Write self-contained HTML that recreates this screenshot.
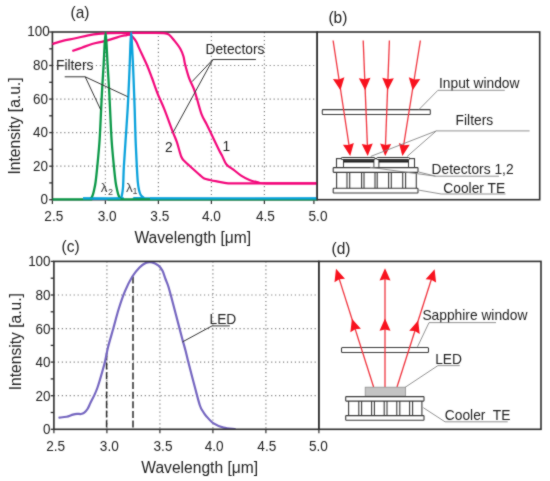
<!DOCTYPE html>
<html><head><meta charset="utf-8"><style>
html,body{margin:0;padding:0;background:#fff;}
body{width:550px;height:481px;overflow:hidden;font-family:"Liberation Sans",sans-serif;}
svg{display:block;}
</style></head><body>
<svg width="550" height="481" viewBox="0 0 550 481">
<defs><filter id="bl" filterUnits="userSpaceOnUse" x="0" y="0" width="550" height="481" color-interpolation-filters="sRGB"><feConvolveMatrix order="3" kernelMatrix="1 2 1 2 16 2 1 2 1" divisor="28" edgeMode="duplicate" preserveAlpha="true"/></filter></defs>
<g filter="url(#bl)">
<rect width="550" height="481" fill="#fff"/>
<line x1="105.4" y1="32.0" x2="105.4" y2="199.7" stroke="#7c7c7c" stroke-width="1.2" stroke-dasharray="1.15 2.8"/>
<line x1="158.4" y1="32.0" x2="158.4" y2="199.7" stroke="#7c7c7c" stroke-width="1.2" stroke-dasharray="1.15 2.8"/>
<line x1="211.4" y1="32.0" x2="211.4" y2="199.7" stroke="#7c7c7c" stroke-width="1.2" stroke-dasharray="1.15 2.8"/>
<line x1="264.4" y1="32.0" x2="264.4" y2="199.7" stroke="#7c7c7c" stroke-width="1.2" stroke-dasharray="1.15 2.8"/>
<line x1="52.4" y1="166.2" x2="317.2" y2="166.2" stroke="#7c7c7c" stroke-width="1.2" stroke-dasharray="1.15 2.8"/>
<line x1="52.4" y1="132.6" x2="317.2" y2="132.6" stroke="#7c7c7c" stroke-width="1.2" stroke-dasharray="1.15 2.8"/>
<line x1="52.4" y1="99.1" x2="317.2" y2="99.1" stroke="#7c7c7c" stroke-width="1.2" stroke-dasharray="1.15 2.8"/>
<line x1="52.4" y1="65.5" x2="317.2" y2="65.5" stroke="#7c7c7c" stroke-width="1.2" stroke-dasharray="1.15 2.8"/>
<rect x="52.4" y="32.0" width="264.8" height="167.7" fill="none" stroke="#2e2e2e" stroke-width="1.6"/>
<path d="M52.40,44.00 C54.12,43.48 58.85,41.85 62.70,40.90 C66.55,39.95 71.25,39.23 75.50,38.30 C79.75,37.37 83.95,36.08 88.20,35.30 C92.45,34.52 97.37,33.97 101.00,33.60 C104.63,33.23 105.17,33.20 110.00,33.10 C114.83,33.00 123.33,33.03 130.00,33.00 C136.67,32.97 144.33,32.88 150.00,32.90 C155.67,32.92 160.83,32.80 164.00,33.10 C167.17,33.40 167.28,33.47 169.00,34.70 C170.72,35.93 172.42,38.17 174.30,40.50 C176.18,42.83 178.77,46.03 180.30,48.70 C181.83,51.37 182.72,53.95 183.50,56.50 C184.28,59.05 184.08,60.45 185.00,64.00 C185.92,67.55 187.48,73.55 189.00,77.80 C190.52,82.05 192.72,85.80 194.10,89.50 C195.48,93.20 196.03,95.82 197.30,100.00 C198.57,104.18 200.17,110.60 201.70,114.60 C203.23,118.60 204.93,120.85 206.50,124.00 C208.07,127.15 209.00,129.13 211.10,133.50 C213.20,137.87 217.28,146.53 219.10,150.20 C220.92,153.87 220.77,153.12 222.00,155.50 C223.23,157.88 224.60,162.15 226.50,164.50 C228.40,166.85 230.97,167.75 233.40,169.60 C235.83,171.45 238.33,173.83 241.10,175.60 C243.87,177.37 247.18,179.08 250.00,180.20 C252.82,181.32 255.25,181.78 258.00,182.30 C260.75,182.82 256.63,183.13 266.50,183.30 C276.37,183.47 308.75,183.30 317.20,183.30" fill="none" stroke="#f3077b" stroke-width="2.2" stroke-linejoin="round"/>
<path d="M72.30,51.00 C73.88,50.45 78.52,48.87 81.80,47.70 C85.08,46.53 88.38,45.05 92.00,44.00 C95.62,42.95 100.12,42.25 103.50,41.40 C106.88,40.55 109.27,39.80 112.30,38.90 C115.33,38.00 119.40,36.60 121.70,36.00 C124.00,35.40 124.80,35.53 126.10,35.30 C127.40,35.07 128.35,34.28 129.50,34.60 C130.65,34.92 131.85,35.97 133.00,37.20 C134.15,38.43 135.37,40.13 136.40,42.00 C137.43,43.87 137.47,44.62 139.20,48.40 C140.93,52.18 144.67,59.77 146.80,64.70 C148.93,69.63 150.18,73.15 152.00,78.00 C153.82,82.85 155.65,88.62 157.70,93.80 C159.75,98.98 161.82,102.85 164.30,109.10 C166.78,115.35 170.50,125.78 172.60,131.30 C174.70,136.82 175.45,137.95 176.90,142.20 C178.35,146.45 179.93,153.53 181.30,156.80 C182.67,160.07 183.65,160.23 185.10,161.80 C186.55,163.37 188.30,164.67 190.00,166.20 C191.70,167.73 193.63,169.50 195.30,171.00 C196.97,172.50 198.52,173.93 200.00,175.20 C201.48,176.47 202.53,177.80 204.20,178.60 C205.87,179.40 208.10,179.57 210.00,180.00 C211.90,180.43 213.60,180.80 215.60,181.20 C217.60,181.60 219.87,182.05 222.00,182.40 C224.13,182.75 226.07,183.15 228.40,183.30 C230.73,183.45 221.20,183.30 236.00,183.30 C250.80,183.30 303.67,183.30 317.20,183.30" fill="none" stroke="#f3077b" stroke-width="2.2" stroke-linejoin="round"/>
<path d="M83.00,198.50 C89.13,198.50 113.42,198.65 119.80,198.50 C126.18,198.35 120.88,198.52 121.30,197.60 C121.72,196.68 122.00,194.93 122.30,193.00 C122.60,191.07 122.83,190.50 123.10,186.00 C123.37,181.50 123.48,173.67 123.90,166.00 C124.32,158.33 124.98,149.33 125.60,140.00 C126.22,130.67 127.08,118.67 127.60,110.00 C128.12,101.33 128.35,95.50 128.70,88.00 C129.05,80.50 129.42,72.17 129.70,65.00 C129.98,57.83 130.15,50.40 130.40,45.00 C130.65,39.60 130.93,32.60 131.20,32.60 C131.47,32.60 131.70,39.60 132.00,45.00 C132.30,50.40 132.68,57.83 133.00,65.00 C133.32,72.17 133.62,80.50 133.90,88.00 C134.18,95.50 134.42,101.33 134.70,110.00 C134.98,118.67 135.25,130.67 135.60,140.00 C135.95,149.33 136.43,159.00 136.80,166.00 C137.17,173.00 137.43,178.00 137.80,182.00 C138.17,186.00 138.50,187.80 139.00,190.00 C139.50,192.20 140.05,193.93 140.80,195.20 C141.55,196.47 142.38,197.05 143.50,197.60 C144.62,198.15 118.55,198.35 147.50,198.50 C176.45,198.65 288.92,198.50 317.20,198.50" fill="none" stroke="#0aa2dc" stroke-width="2.3" stroke-linejoin="round"/>
<path d="M52.40,199.30 C58.42,199.30 82.13,199.40 88.50,199.30 C94.87,199.20 89.92,199.33 90.60,198.70 C91.28,198.07 92.02,196.95 92.60,195.50 C93.18,194.05 93.60,192.25 94.10,190.00 C94.60,187.75 95.07,185.93 95.60,182.00 C96.13,178.07 96.63,173.40 97.30,166.40 C97.97,159.40 98.97,149.40 99.60,140.00 C100.23,130.60 100.67,118.67 101.10,110.00 C101.53,101.33 101.78,95.50 102.20,88.00 C102.62,80.50 103.20,72.17 103.60,65.00 C104.00,57.83 104.27,50.40 104.60,45.00 C104.93,39.60 105.27,32.60 105.60,32.60 C105.93,32.60 106.27,39.60 106.60,45.00 C106.93,50.40 107.20,57.83 107.60,65.00 C108.00,72.17 108.58,80.50 109.00,88.00 C109.42,95.50 109.67,101.33 110.10,110.00 C110.53,118.67 110.97,130.60 111.60,140.00 C112.23,149.40 113.23,159.40 113.90,166.40 C114.57,173.40 115.07,178.07 115.60,182.00 C116.13,185.93 116.60,187.75 117.10,190.00 C117.60,192.25 118.02,194.05 118.60,195.50 C119.18,196.95 119.87,198.07 120.60,198.70 C121.33,199.33 90.23,199.20 123.00,199.30 C155.77,199.40 284.83,199.30 317.20,199.30" fill="none" stroke="#0a9847" stroke-width="2.3" stroke-linejoin="round"/>
<line x1="83" y1="198.5" x2="120.5" y2="198.5" stroke="#0aa2dc" stroke-width="2.2"/>
<line x1="150" y1="198.5" x2="317.2" y2="198.5" stroke="#0aa2dc" stroke-width="2.2"/>
<line x1="49.2" y1="199.7" x2="52.4" y2="199.7" stroke="#2e2e2e" stroke-width="1.3"/>
<line x1="49.2" y1="182.9" x2="52.4" y2="182.9" stroke="#2e2e2e" stroke-width="1.3"/>
<line x1="49.2" y1="166.2" x2="52.4" y2="166.2" stroke="#2e2e2e" stroke-width="1.3"/>
<line x1="49.2" y1="149.4" x2="52.4" y2="149.4" stroke="#2e2e2e" stroke-width="1.3"/>
<line x1="49.2" y1="132.6" x2="52.4" y2="132.6" stroke="#2e2e2e" stroke-width="1.3"/>
<line x1="49.2" y1="115.8" x2="52.4" y2="115.8" stroke="#2e2e2e" stroke-width="1.3"/>
<line x1="49.2" y1="99.1" x2="52.4" y2="99.1" stroke="#2e2e2e" stroke-width="1.3"/>
<line x1="49.2" y1="82.3" x2="52.4" y2="82.3" stroke="#2e2e2e" stroke-width="1.3"/>
<line x1="49.2" y1="65.5" x2="52.4" y2="65.5" stroke="#2e2e2e" stroke-width="1.3"/>
<line x1="49.2" y1="48.8" x2="52.4" y2="48.8" stroke="#2e2e2e" stroke-width="1.3"/>
<line x1="49.2" y1="32.0" x2="52.4" y2="32.0" stroke="#2e2e2e" stroke-width="1.3"/>
<text transform="translate(48.0,204.4) scale(0.88,1)" font-size="15.3" text-anchor="end" fill="#1e1e1e" font-family="'Liberation Sans', sans-serif">0</text>
<text transform="translate(48.0,170.9) scale(0.88,1)" font-size="15.3" text-anchor="end" fill="#1e1e1e" font-family="'Liberation Sans', sans-serif">20</text>
<text transform="translate(48.0,137.3) scale(0.88,1)" font-size="15.3" text-anchor="end" fill="#1e1e1e" font-family="'Liberation Sans', sans-serif">40</text>
<text transform="translate(48.0,103.8) scale(0.88,1)" font-size="15.3" text-anchor="end" fill="#1e1e1e" font-family="'Liberation Sans', sans-serif">60</text>
<text transform="translate(48.0,70.2) scale(0.88,1)" font-size="15.3" text-anchor="end" fill="#1e1e1e" font-family="'Liberation Sans', sans-serif">80</text>
<text transform="translate(49.8,35.9) scale(0.88,1)" font-size="15.3" text-anchor="end" fill="#1e1e1e" font-family="'Liberation Sans', sans-serif">100</text>
<line x1="52.4" y1="200.5" x2="52.4" y2="203.9" stroke="#2e2e2e" stroke-width="1.2"/>
<text transform="translate(53.8,221.2) scale(0.89,1)" font-size="15.3" text-anchor="middle" fill="#1e1e1e" font-family="'Liberation Sans', sans-serif">2.5</text>
<line x1="105.4" y1="200.5" x2="105.4" y2="203.9" stroke="#2e2e2e" stroke-width="1.2"/>
<text transform="translate(107.2,221.2) scale(0.89,1)" font-size="15.3" text-anchor="middle" fill="#1e1e1e" font-family="'Liberation Sans', sans-serif">3.0</text>
<line x1="158.4" y1="200.5" x2="158.4" y2="203.9" stroke="#2e2e2e" stroke-width="1.2"/>
<text transform="translate(159.8,221.2) scale(0.89,1)" font-size="15.3" text-anchor="middle" fill="#1e1e1e" font-family="'Liberation Sans', sans-serif">3.5</text>
<line x1="211.4" y1="200.5" x2="211.4" y2="203.9" stroke="#2e2e2e" stroke-width="1.2"/>
<text transform="translate(211.4,221.2) scale(0.89,1)" font-size="15.3" text-anchor="middle" fill="#1e1e1e" font-family="'Liberation Sans', sans-serif">4.0</text>
<line x1="264.4" y1="200.5" x2="264.4" y2="203.9" stroke="#2e2e2e" stroke-width="1.2"/>
<text transform="translate(265.4,221.2) scale(0.89,1)" font-size="15.3" text-anchor="middle" fill="#1e1e1e" font-family="'Liberation Sans', sans-serif">4.5</text>
<line x1="313.9" y1="200.5" x2="313.9" y2="203.9" stroke="#2e2e2e" stroke-width="1.2"/>
<text transform="translate(318.0,221.2) scale(0.89,1)" font-size="15.3" text-anchor="middle" fill="#1e1e1e" font-family="'Liberation Sans', sans-serif">5.0</text>
<text x="192.8" y="243.2" font-size="15.6" text-anchor="middle" fill="#1e1e1e" font-family="'Liberation Sans', sans-serif">Wavelength [μm]</text>
<text transform="translate(20.3,126) rotate(-90)" font-size="15.6" text-anchor="middle" fill="#1e1e1e" font-family="'Liberation Sans', sans-serif">Intensity [a.u.]</text>
<text transform="translate(80,18) scale(0.945,1)" font-size="16.4" text-anchor="middle" fill="#1e1e1e" font-family="'Liberation Sans', sans-serif" >(a)</text>
<text transform="translate(56,70.3) scale(0.945,1)" font-size="14.6" text-anchor="start" fill="#1e1e1e" font-family="'Liberation Sans', sans-serif" >Filters</text>
<path d="M64.7,76.8 L85.2,76.8 L100.7,109.8 M85.2,76.8 L127.7,96.7" fill="none" stroke="#333" stroke-width="1"/>
<text transform="translate(205.5,53.8) scale(0.945,1)" font-size="14.6" text-anchor="start" fill="#1e1e1e" font-family="'Liberation Sans', sans-serif" >Detectors</text>
<path d="M255.9,59.5 L212.9,59.5 L192.1,81.6 M212.9,59.5 L173.3,132" fill="none" stroke="#333" stroke-width="1"/>
<text transform="translate(165,152.2) scale(0.945,1)" font-size="14.6" text-anchor="start" fill="#1e1e1e" font-family="'Liberation Sans', sans-serif" >2</text>
<text transform="translate(222.4,150.7) scale(0.945,1)" font-size="14.6" text-anchor="start" fill="#1e1e1e" font-family="'Liberation Sans', sans-serif" >1</text>
<text x="100.8" y="192" font-size="13.5" fill="#444" font-family="'Liberation Sans', sans-serif">λ</text><text x="107.9" y="195" font-size="9" fill="#444" font-family="'Liberation Sans', sans-serif">2</text>
<text x="126" y="191.6" font-size="13.5" fill="#444" font-family="'Liberation Sans', sans-serif">λ</text><text x="132.6" y="193.6" font-size="9" fill="#444" font-family="'Liberation Sans', sans-serif">1</text>
<rect x="317.2" y="32.0" width="222.5" height="167.7" fill="none" stroke="#2e2e2e" stroke-width="1.6"/>
<text transform="translate(337.9,22.8) scale(0.945,1)" font-size="16.4" text-anchor="middle" fill="#1e1e1e" font-family="'Liberation Sans', sans-serif" >(b)</text>
<rect x="322.3" y="109.6" width="108" height="4.9" rx="0.8" fill="none" stroke="#3a3a3a" stroke-width="1.05"/>
<line x1="333.1" y1="40.5" x2="350.2" y2="153" stroke="#f0343e" stroke-width="1.3"/>
<path d="M340.47,90.30 L332.93,78.98 L338.86,79.42 L344.41,77.28 Z" fill="#f8121e"/>
<path d="M350.20,156.00 L342.96,144.64 L348.59,145.12 L353.84,143.03 Z" fill="#f8121e"/>
<line x1="363.2" y1="40.5" x2="367.7" y2="153" stroke="#f0343e" stroke-width="1.3"/>
<path d="M365.14,90.30 L358.87,78.24 L364.71,79.31 L370.46,77.78 Z" fill="#f8121e"/>
<path d="M367.70,156.00 L361.73,143.92 L367.27,145.01 L372.72,143.50 Z" fill="#f8121e"/>
<line x1="389.4" y1="40.5" x2="385.2" y2="153" stroke="#f0343e" stroke-width="1.3"/>
<path d="M387.59,90.30 L382.24,77.80 L387.99,79.31 L393.83,78.22 Z" fill="#f8121e"/>
<path d="M385.20,156.00 L380.15,143.51 L385.60,145.01 L391.14,143.91 Z" fill="#f8121e"/>
<line x1="420.4" y1="40.5" x2="402.4" y2="153" stroke="#f0343e" stroke-width="1.3"/>
<path d="M412.64,90.30 L408.80,77.25 L414.33,79.43 L420.26,79.04 Z" fill="#f8121e"/>
<path d="M402.40,156.00 L398.86,143.00 L404.09,145.13 L409.73,144.69 Z" fill="#f8121e"/>
<rect x="336.5" y="158.6" width="78" height="9" fill="#fff" stroke="#3a3a3a" stroke-width="1.1"/>
<rect x="343.5" y="159.8" width="30.4" height="7.8" fill="#fff" stroke="#3a3a3a" stroke-width="0.95"/>
<rect x="343.5" y="160.2" width="30.4" height="2.3" fill="#1a1a1a"/>
<rect x="341.2" y="157.5" width="33.8" height="2.0" rx="1.0" fill="#fff" stroke="#2e2e2e" stroke-width="1.0"/>
<rect x="378.90000000000003" y="159.8" width="29.6" height="7.8" fill="#fff" stroke="#3a3a3a" stroke-width="0.95"/>
<rect x="378.90000000000003" y="160.2" width="29.6" height="2.3" fill="#1a1a1a"/>
<rect x="376.6" y="157.5" width="33.0" height="2.0" rx="1.0" fill="#fff" stroke="#2e2e2e" stroke-width="1.0"/>
<rect x="333.2" y="167.6" width="84.8" height="4.8" rx="0.6" fill="#fff" stroke="#3a3a3a" stroke-width="1.1"/>
<rect x="333.2" y="188.3" width="84.8" height="4.7" rx="0.6" fill="#fff" stroke="#3a3a3a" stroke-width="1.1"/>
<line x1="336.6" y1="172.4" x2="336.6" y2="188.3" stroke="#3a3a3a" stroke-width="1.1"/>
<line x1="347.0" y1="172.4" x2="347.0" y2="188.3" stroke="#3a3a3a" stroke-width="1.1"/>
<line x1="349.7" y1="172.4" x2="349.7" y2="188.3" stroke="#3a3a3a" stroke-width="1.1"/>
<line x1="361.6" y1="172.4" x2="361.6" y2="188.3" stroke="#3a3a3a" stroke-width="1.1"/>
<line x1="364.0" y1="172.4" x2="364.0" y2="188.3" stroke="#3a3a3a" stroke-width="1.1"/>
<line x1="375.0" y1="172.4" x2="375.0" y2="188.3" stroke="#3a3a3a" stroke-width="1.1"/>
<line x1="377.2" y1="172.4" x2="377.2" y2="188.3" stroke="#3a3a3a" stroke-width="1.1"/>
<line x1="388.6" y1="172.4" x2="388.6" y2="188.3" stroke="#3a3a3a" stroke-width="1.1"/>
<line x1="391.3" y1="172.4" x2="391.3" y2="188.3" stroke="#3a3a3a" stroke-width="1.1"/>
<line x1="402.7" y1="172.4" x2="402.7" y2="188.3" stroke="#3a3a3a" stroke-width="1.1"/>
<line x1="405.6" y1="172.4" x2="405.6" y2="188.3" stroke="#3a3a3a" stroke-width="1.1"/>
<line x1="416.3" y1="172.4" x2="416.3" y2="188.3" stroke="#3a3a3a" stroke-width="1.1"/>
<text transform="translate(439,88.2) scale(0.945,1)" font-size="14.6" text-anchor="start" fill="#1e1e1e" font-family="'Liberation Sans', sans-serif" >Input window</text>
<path d="M504.8,90.3 L437.9,90.3 L419,109.5" fill="none" stroke="#858585" stroke-width="0.9"/>
<text transform="translate(455.6,124.6) scale(0.945,1)" font-size="14.6" text-anchor="start" fill="#1e1e1e" font-family="'Liberation Sans', sans-serif" >Filters</text>
<path d="M529.6,130.9 L436.3,130.9 L370.8,156.4 M436.3,130.9 L407.2,156.4" fill="none" stroke="#858585" stroke-width="0.9"/>
<text transform="translate(431.6,173.6) scale(0.945,1)" font-size="14.6" text-anchor="start" fill="#1e1e1e" font-family="'Liberation Sans', sans-serif" >Detectors 1,2</text>
<path d="M499,176.2 L435.6,176.2 L370,167.3 M435.6,176.2 L418.7,172" fill="none" stroke="#858585" stroke-width="0.9"/>
<text transform="translate(443.3,192.5) scale(0.945,1)" font-size="14.6" text-anchor="start" fill="#1e1e1e" font-family="'Liberation Sans', sans-serif" >Cooler TE</text>
<path d="M505.5,194.0 L441.2,194.0 L418.7,190.1" fill="none" stroke="#858585" stroke-width="0.9"/>
<line x1="106.9" y1="261.4" x2="106.9" y2="429.3" stroke="#7c7c7c" stroke-width="1.2" stroke-dasharray="1.15 2.8"/>
<line x1="159.9" y1="261.4" x2="159.9" y2="429.3" stroke="#7c7c7c" stroke-width="1.2" stroke-dasharray="1.15 2.8"/>
<line x1="212.9" y1="261.4" x2="212.9" y2="429.3" stroke="#7c7c7c" stroke-width="1.2" stroke-dasharray="1.15 2.8"/>
<line x1="265.9" y1="261.4" x2="265.9" y2="429.3" stroke="#7c7c7c" stroke-width="1.2" stroke-dasharray="1.15 2.8"/>
<line x1="53.9" y1="395.7" x2="318.8" y2="395.7" stroke="#7c7c7c" stroke-width="1.2" stroke-dasharray="1.15 2.8"/>
<line x1="53.9" y1="362.1" x2="318.8" y2="362.1" stroke="#7c7c7c" stroke-width="1.2" stroke-dasharray="1.15 2.8"/>
<line x1="53.9" y1="328.6" x2="318.8" y2="328.6" stroke="#7c7c7c" stroke-width="1.2" stroke-dasharray="1.15 2.8"/>
<line x1="53.9" y1="295.0" x2="318.8" y2="295.0" stroke="#7c7c7c" stroke-width="1.2" stroke-dasharray="1.15 2.8"/>
<line x1="106.6" y1="353" x2="106.6" y2="429.3" stroke="#2a2a2a" stroke-width="1.5" stroke-dasharray="7 2.6"/>
<line x1="133.0" y1="276.5" x2="133.0" y2="429.3" stroke="#2a2a2a" stroke-width="1.5" stroke-dasharray="7 2.6"/>
<path d="M59.40,417.60 C60.60,417.47 64.35,417.30 66.60,416.80 C68.85,416.30 71.17,415.10 72.90,414.60 C74.63,414.10 75.65,413.90 77.00,413.80 C78.35,413.70 79.78,414.20 81.00,414.00 C82.22,413.80 83.22,413.43 84.30,412.60 C85.38,411.77 86.47,410.63 87.50,409.00 C88.53,407.37 89.30,405.23 90.50,402.80 C91.70,400.37 93.53,396.95 94.70,394.40 C95.87,391.85 96.63,389.92 97.50,387.50 C98.37,385.08 99.05,382.73 99.90,379.90 C100.75,377.07 101.73,373.62 102.60,370.50 C103.47,367.38 104.17,365.18 105.10,361.20 C106.03,357.22 106.80,352.17 108.20,346.60 C109.60,341.03 111.75,334.07 113.50,327.80 C115.25,321.53 116.80,315.07 118.70,309.00 C120.60,302.93 122.65,296.77 124.90,291.40 C127.15,286.03 129.77,280.78 132.20,276.80 C134.63,272.82 137.25,269.82 139.50,267.50 C141.75,265.18 143.62,263.77 145.70,262.90 C147.78,262.03 149.92,261.88 152.00,262.30 C154.08,262.72 156.47,264.02 158.20,265.40 C159.93,266.78 161.18,268.33 162.40,270.60 C163.62,272.87 164.47,276.23 165.50,279.00 C166.53,281.77 167.38,283.23 168.60,287.20 C169.82,291.17 171.23,296.90 172.80,302.80 C174.37,308.70 176.42,316.57 178.00,322.60 C179.58,328.63 181.05,334.35 182.30,339.00 C183.55,343.65 184.43,346.40 185.50,350.50 C186.57,354.60 187.13,357.47 188.70,363.60 C190.27,369.73 193.03,380.32 194.90,387.30 C196.77,394.28 198.55,401.47 199.90,405.50 C201.25,409.53 201.97,409.77 203.00,411.50 C204.03,413.23 204.33,413.92 206.10,415.90 C207.87,417.88 210.68,421.45 213.60,423.40 C216.52,425.35 220.07,426.67 223.60,427.60 C227.13,428.53 232.93,428.77 234.80,429.00" fill="none" stroke="#7566c0" stroke-width="2.2" stroke-linejoin="round" stroke-linecap="round"/>
<rect x="53.9" y="261.4" width="264.9" height="167.9" fill="none" stroke="#2e2e2e" stroke-width="1.6"/>
<line x1="50.7" y1="429.3" x2="53.9" y2="429.3" stroke="#2e2e2e" stroke-width="1.3"/>
<line x1="50.7" y1="412.5" x2="53.9" y2="412.5" stroke="#2e2e2e" stroke-width="1.3"/>
<line x1="50.7" y1="395.7" x2="53.9" y2="395.7" stroke="#2e2e2e" stroke-width="1.3"/>
<line x1="50.7" y1="378.9" x2="53.9" y2="378.9" stroke="#2e2e2e" stroke-width="1.3"/>
<line x1="50.7" y1="362.1" x2="53.9" y2="362.1" stroke="#2e2e2e" stroke-width="1.3"/>
<line x1="50.7" y1="345.4" x2="53.9" y2="345.4" stroke="#2e2e2e" stroke-width="1.3"/>
<line x1="50.7" y1="328.6" x2="53.9" y2="328.6" stroke="#2e2e2e" stroke-width="1.3"/>
<line x1="50.7" y1="311.8" x2="53.9" y2="311.8" stroke="#2e2e2e" stroke-width="1.3"/>
<line x1="50.7" y1="295.0" x2="53.9" y2="295.0" stroke="#2e2e2e" stroke-width="1.3"/>
<line x1="50.7" y1="278.2" x2="53.9" y2="278.2" stroke="#2e2e2e" stroke-width="1.3"/>
<line x1="50.7" y1="261.4" x2="53.9" y2="261.4" stroke="#2e2e2e" stroke-width="1.3"/>
<text transform="translate(50.6,434.2) scale(0.88,1)" font-size="15.3" text-anchor="end" fill="#1e1e1e" font-family="'Liberation Sans', sans-serif">0</text>
<text transform="translate(50.6,400.6) scale(0.88,1)" font-size="15.3" text-anchor="end" fill="#1e1e1e" font-family="'Liberation Sans', sans-serif">20</text>
<text transform="translate(50.6,367.0) scale(0.88,1)" font-size="15.3" text-anchor="end" fill="#1e1e1e" font-family="'Liberation Sans', sans-serif">40</text>
<text transform="translate(50.6,333.5) scale(0.88,1)" font-size="15.3" text-anchor="end" fill="#1e1e1e" font-family="'Liberation Sans', sans-serif">60</text>
<text transform="translate(50.6,299.9) scale(0.88,1)" font-size="15.3" text-anchor="end" fill="#1e1e1e" font-family="'Liberation Sans', sans-serif">80</text>
<text transform="translate(50.6,266.3) scale(0.88,1)" font-size="15.3" text-anchor="end" fill="#1e1e1e" font-family="'Liberation Sans', sans-serif">100</text>
<line x1="53.9" y1="430.1" x2="53.9" y2="433.3" stroke="#2e2e2e" stroke-width="1.2"/>
<text transform="translate(55.7,450.8) scale(0.89,1)" font-size="15.3" text-anchor="middle" fill="#1e1e1e" font-family="'Liberation Sans', sans-serif">2.5</text>
<line x1="106.9" y1="430.1" x2="106.9" y2="433.3" stroke="#2e2e2e" stroke-width="1.2"/>
<text transform="translate(109.3,450.8) scale(0.89,1)" font-size="15.3" text-anchor="middle" fill="#1e1e1e" font-family="'Liberation Sans', sans-serif">3.0</text>
<line x1="159.9" y1="430.1" x2="159.9" y2="433.3" stroke="#2e2e2e" stroke-width="1.2"/>
<text transform="translate(163.0,450.8) scale(0.89,1)" font-size="15.3" text-anchor="middle" fill="#1e1e1e" font-family="'Liberation Sans', sans-serif">3.5</text>
<line x1="212.9" y1="430.1" x2="212.9" y2="433.3" stroke="#2e2e2e" stroke-width="1.2"/>
<text transform="translate(214.2,450.8) scale(0.89,1)" font-size="15.3" text-anchor="middle" fill="#1e1e1e" font-family="'Liberation Sans', sans-serif">4.0</text>
<line x1="265.9" y1="430.1" x2="265.9" y2="433.3" stroke="#2e2e2e" stroke-width="1.2"/>
<text transform="translate(266.8,450.8) scale(0.89,1)" font-size="15.3" text-anchor="middle" fill="#1e1e1e" font-family="'Liberation Sans', sans-serif">4.5</text>
<line x1="318.9" y1="430.1" x2="318.9" y2="433.3" stroke="#2e2e2e" stroke-width="1.2"/>
<text transform="translate(318.4,450.8) scale(0.89,1)" font-size="15.3" text-anchor="middle" fill="#1e1e1e" font-family="'Liberation Sans', sans-serif">5.0</text>
<text x="199.7" y="472.8" font-size="15.6" text-anchor="middle" fill="#1e1e1e" font-family="'Liberation Sans', sans-serif">Wavelength [μm]</text>
<text transform="translate(20.5,341.7) rotate(-90)" font-size="15.6" text-anchor="middle" fill="#1e1e1e" font-family="'Liberation Sans', sans-serif">Intensity [a.u.]</text>
<text transform="translate(70.6,252.3) scale(0.945,1)" font-size="16.4" text-anchor="middle" fill="#1e1e1e" font-family="'Liberation Sans', sans-serif" >(c)</text>
<text transform="translate(209.5,324.1) scale(0.945,1)" font-size="14.6" text-anchor="start" fill="#1e1e1e" font-family="'Liberation Sans', sans-serif" >LED</text>
<path d="M229.8,325.9 L212,325.9 L182.5,341.9" fill="none" stroke="#333" stroke-width="1"/>
<rect x="318.8" y="261.4" width="222.2" height="167.9" fill="none" stroke="#2e2e2e" stroke-width="1.6"/>
<text transform="translate(341.0,254.4) scale(0.945,1)" font-size="16.4" text-anchor="middle" fill="#1e1e1e" font-family="'Liberation Sans', sans-serif" >(d)</text>
<rect x="341.5" y="347.5" width="87" height="4.9" rx="1" fill="none" stroke="#3a3a3a" stroke-width="1.05"/>
<line x1="373.6" y1="387" x2="337.13" y2="272.35" stroke="#f0343e" stroke-width="1.3"/>
<path d="M336.00,268.80 L344.97,278.85 L339.33,279.28 L334.49,282.19 Z" fill="#f8121e"/>
<path d="M351.91,318.80 L360.88,328.85 L355.24,329.28 L350.39,332.19 Z" fill="#f8121e"/>
<line x1="385" y1="387" x2="385.00" y2="271.76" stroke="#f0343e" stroke-width="1.3"/>
<path d="M385.00,268.20 L390.50,280.50 L385.00,279.20 L379.50,280.50 Z" fill="#f8121e"/>
<path d="M385.00,318.40 L390.50,330.70 L385.00,329.40 L379.50,330.70 Z" fill="#f8121e"/>
<line x1="397" y1="387" x2="433.47" y2="272.73" stroke="#f0343e" stroke-width="1.3"/>
<path d="M434.60,269.20 L436.10,282.59 L431.26,279.68 L425.62,279.25 Z" fill="#f8121e"/>
<path d="M418.19,320.60 L419.69,333.99 L414.85,331.08 L409.21,330.65 Z" fill="#f8121e"/>
<rect x="365.2" y="387.2" width="40.3" height="9" fill="#c3c3c3" stroke="#8f8f8f" stroke-width="0.8"/>
<rect x="345.7" y="396.6" width="78.3" height="4.5" rx="0.6" fill="#fff" stroke="#3a3a3a" stroke-width="1.1"/>
<rect x="345.7" y="415.6" width="78.3" height="4.7" rx="0.6" fill="#fff" stroke="#3a3a3a" stroke-width="1.1"/>
<line x1="348.6" y1="401.1" x2="348.6" y2="415.6" stroke="#3a3a3a" stroke-width="1.1"/>
<line x1="358.8" y1="401.1" x2="358.8" y2="415.6" stroke="#3a3a3a" stroke-width="1.1"/>
<line x1="361.6" y1="401.1" x2="361.6" y2="415.6" stroke="#3a3a3a" stroke-width="1.1"/>
<line x1="371.6" y1="401.1" x2="371.6" y2="415.6" stroke="#3a3a3a" stroke-width="1.1"/>
<line x1="374.4" y1="401.1" x2="374.4" y2="415.6" stroke="#3a3a3a" stroke-width="1.1"/>
<line x1="384.2" y1="401.1" x2="384.2" y2="415.6" stroke="#3a3a3a" stroke-width="1.1"/>
<line x1="387.0" y1="401.1" x2="387.0" y2="415.6" stroke="#3a3a3a" stroke-width="1.1"/>
<line x1="396.8" y1="401.1" x2="396.8" y2="415.6" stroke="#3a3a3a" stroke-width="1.1"/>
<line x1="399.8" y1="401.1" x2="399.8" y2="415.6" stroke="#3a3a3a" stroke-width="1.1"/>
<line x1="409.6" y1="401.1" x2="409.6" y2="415.6" stroke="#3a3a3a" stroke-width="1.1"/>
<line x1="412.6" y1="401.1" x2="412.6" y2="415.6" stroke="#3a3a3a" stroke-width="1.1"/>
<line x1="421.9" y1="401.1" x2="421.9" y2="415.6" stroke="#3a3a3a" stroke-width="1.1"/>
<text transform="translate(422.4,320.4) scale(0.945,1)" font-size="14.6" text-anchor="start" fill="#1e1e1e" font-family="'Liberation Sans', sans-serif" >Sapphire window</text>
<path d="M496,322.6 L429,322.6 L417.5,346.8" fill="none" stroke="#858585" stroke-width="0.9"/>
<text transform="translate(435.2,364) scale(0.945,1)" font-size="14.6" text-anchor="start" fill="#1e1e1e" font-family="'Liberation Sans', sans-serif" >LED</text>
<path d="M459.7,365.6 L437.9,365.6 L405,387.4" fill="none" stroke="#858585" stroke-width="0.9"/>
<text transform="translate(444.8,420.3) scale(0.945,1)" font-size="14.6" text-anchor="start" fill="#1e1e1e" font-family="'Liberation Sans', sans-serif" xml:space="preserve">Cooler  TE</text>
<path d="M507.7,421.8 L445,421.8 L423.3,407.7" fill="none" stroke="#858585" stroke-width="0.9"/>
</g>
</svg>
</body></html>
